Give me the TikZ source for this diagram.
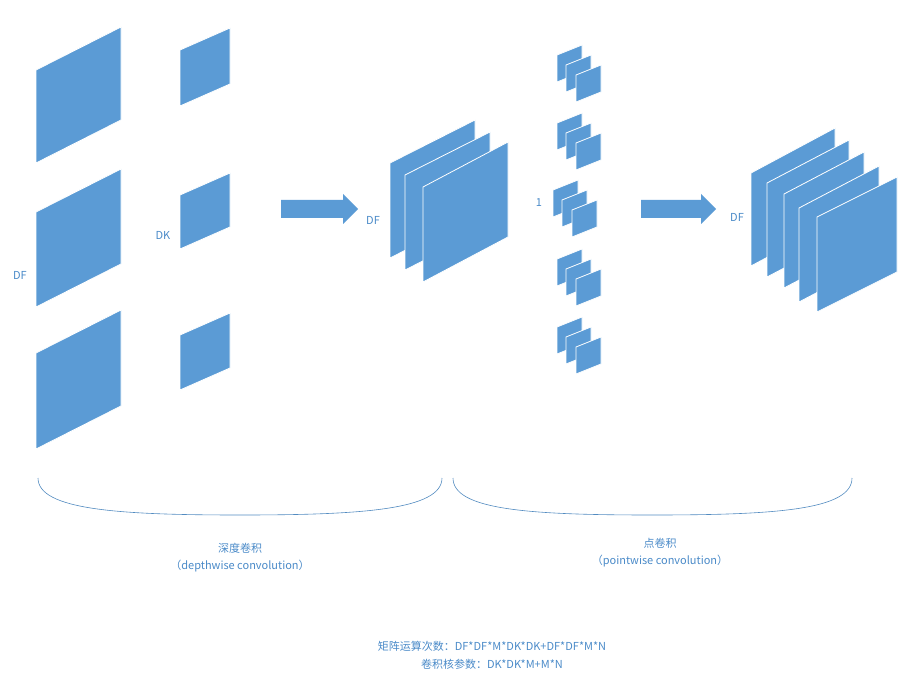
\documentclass[tikz,border=0pt]{standalone}
\usepackage{fontspec}
\setmainfont{Noto Sans CJK SC}
\definecolor{pb}{HTML}{5B9BD5}
\definecolor{pt}{HTML}{4A8AC8}
\tikzset{pl/.style={fill=pb,draw=white,line width=0.8pt},
 lab/.style={text=pt,font=\fontsize{11}{13}\selectfont,inner sep=0pt},
 brace/.style={draw=pb!90!black,line width=0.6pt},
 barrow/.style={fill=pb,draw=none}}
\newcommand{\plane}[5]{\path[pl] (#1,#2) -- ++(#3,-#4) -- ++(0,#5) -- ++(-#3,#4) -- cycle;}
\newcommand{\cube}[2]{\plane{#1}{#2}{25}{10}{27}\plane{#1+9}{#2+10}{25}{10}{27}\plane{#1+19}{#2+20}{25}{10}{27}}
\begin{document}
\begin{tikzpicture}[x=1pt,y=-1pt]
\useasboundingbox (0,0) rectangle (917,684);
% left big planes
\plane{36}{70}{85}{43}{93}
\plane{36}{212}{85}{43}{95}
\plane{36}{353}{85}{43}{96}
% kernels
\plane{180}{50}{50}{22}{56}
\plane{180}{195}{50}{22}{54}
\plane{180}{335}{50}{22}{55}
% middle stack
\plane{390}{163}{85}{43}{95}
\plane{405}{175}{85}{43}{95}
\plane{423}{187}{85}{45}{95}
% small cubes
\cube{557}{55}
\cube{557}{123}
\cube{553}{190}
\cube{557}{259}
\cube{557}{327}
% right stack
\plane{751}{173}{84}{45}{93}
\plane{767}{183}{82}{43}{94}
\plane{784}{194}{80}{42}{94}
\plane{799}{208}{80}{42}{94}
\plane{817}{217}{80}{40}{95}
% arrows
\path[barrow] (281,200) -- (343,200) -- (343,194) -- (358,209) -- (343,224) -- (343,218) -- (281,218) -- cycle;
\path[barrow] (641,200) -- (701,200) -- (701,194) -- (716,209) -- (701,224) -- (701,218) -- (641,218) -- cycle;
% labels
\node[lab] (l1) at (20,275) {DF};
\node[lab] (l2) at (163,235) {DK};
\node[lab] (l3) at (373,220) {DF};
\node[lab] (l4) at (539,203) {1};
\node[lab] (l5) at (737,217) {DF};
% braces
\draw[brace] (38,478) .. controls (38,510) and (120,515) .. (240,515) .. controls (360,515) and (442,510) .. (442,478);
\draw[brace] (453,478) .. controls (453,510) and (530,515) .. (652,515) .. controls (775,515) and (852,510) .. (852,478);
\node[lab] (t1) at (240,548) {深度卷积};
\node[lab] (t2) at (240,566) {（depthwise convolution）};
\node[lab] (t3) at (660,543) {点卷积};
\node[lab] (t4) at (660,561) {（pointwise convolution）};
\node[lab] (f1) at (492,646) {矩阵运算次数：DF*DF*M*DK*DK+DF*DF*M*N};
\node[lab] (f2) at (492,664) {卷积核参数：DK*DK*M+M*N};
\end{tikzpicture}
\end{document}
